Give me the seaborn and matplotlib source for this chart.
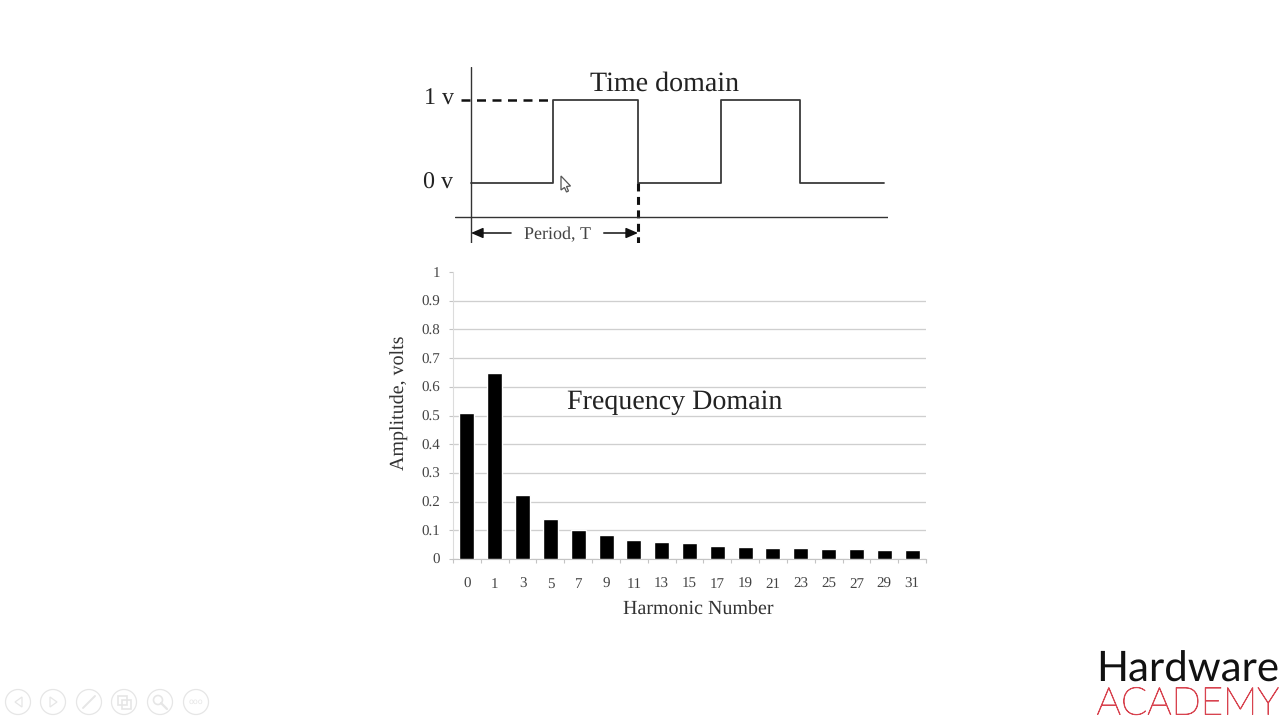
import matplotlib
matplotlib.use("Agg")
import matplotlib.pyplot as plt
import matplotlib.patheffects as pe
from matplotlib.patches import Circle, Polygon
import pandas as pd
import seaborn as sns

harmonics = ["0", "1", "3", "5", "7", "9", "11", "13", "15", "17", "19", "21", "23", "25", "27", "29", "31"]
amplitudes = [0.51, 0.647, 0.224, 0.138, 0.101, 0.083, 0.066, 0.06, 0.055, 0.045, 0.043, 0.04, 0.04, 0.035, 0.036, 0.031, 0.031]
wave_t = [0.0, 0.49, 0.49, 1.0, 1.0, 1.497, 1.497, 1.97, 1.97, 2.475]
wave_v = [0, 0, 1, 1, 0, 0, 1, 1, 0, 0]
dash_top_t = [-0.06, 0.49]
dash_top_v = [1, 1]
dash_period_t = [1.0, 1.0]
dash_period_v = [0.0, -0.72]
y_ticks = [0, 0.1, 0.2, 0.3, 0.4, 0.5, 0.6, 0.7, 0.8, 0.9, 1]
y_labels = ["0", "0.1", "0.2", "0.3", "0.4", "0.5", "0.6", "0.7", "0.8", "0.9", "1"]

W, H = 1280, 720
SERIF = "Liberation Serif"
INK = "#222222"
sns.set_theme(style="white")
plt.rcParams["font.family"] = [SERIF, "DejaVu Sans"]
plt.rcParams["text.hinting"] = "no_hinting"
plt.rcParams["text.hinting_factor"] = 1
fig = plt.figure(figsize=(12.8, 7.2), dpi=100, facecolor="white")

def px_axes(x0, y0, x1, y1):
    return fig.add_axes([x0 / W, 1 - y1 / H, (x1 - x0) / W, (y1 - y0) / H])

# ---------- frequency domain ----------
ax = px_axes(453, 272, 926, 559)
df = pd.DataFrame({"harmonic": harmonics, "amplitude": amplitudes})
sns.barplot(data=df, x="harmonic", y="amplitude", color="black", saturation=1, width=0.54, ax=ax, zorder=3)
ax.set_xlim(-0.5, 16.5)
ax.set_ylim(0, 1)
ax.set_yticks(y_ticks, y_labels)
ax.yaxis.grid(True, color="#cfcfcf", lw=0.95, zorder=0)
ax.xaxis.grid(False)
ax.get_ygridlines()[-1].set_visible(False)
ax.set_axisbelow(True)
for s in ("top", "right"):
    ax.spines[s].set_visible(False)
ax.spines["left"].set_color("#dcdcdc")
ax.spines["left"].set_linewidth(0.8)
ax.spines["bottom"].set_color("#c4c4c4")
ax.spines["bottom"].set_linewidth(0.8)
ax.tick_params(axis="y", left=True, length=3, width=0.8, color="#c4c4c4", labelsize=10.5, labelcolor="#444444", pad=6.5)
ax.tick_params(axis="x", which="major", bottom=False, length=0, labelsize=10.5, labelcolor="#444444", pad=13.5)
ax.set_xticks([i + 0.5 for i in range(-1, 17)], minor=True)
ax.tick_params(axis="x", which="minor", bottom=True, length=3, width=0.8, color="#c4c4c4")
ax.set_xlabel("Harmonic Number", fontsize=14.1, color="#333333")
ax.set_ylabel("Amplitude, volts", fontsize=14.1, color="#333333")
ax.xaxis.set_label_coords(0.519, -(601 - 559) / 287)
ax.yaxis.set_label_coords(-(453 - 409) / 473, (559 - 403) / 287)
ax.patch.set_alpha(0)

# ---------- time domain ----------
T_PX, V_PX = 167.0, 83.0
top = px_axes(455, 67, 888, 243)
top.set_xlim((455 - 471) / T_PX, (888 - 471) / T_PX)
top.set_ylim((183 - 243) / V_PX, (183 - 67) / V_PX)
top.axis("off")
wave = pd.DataFrame({"t": wave_t, "v": wave_v, "order": range(len(wave_t))})
sns.lineplot(data=wave, x="t", y="v", estimator=None, sort=False, color="#3a3a3a", lw=1.3, ax=top)
top.plot(dash_top_t, dash_top_v, color="#111111", lw=1.8, ls=(0, (3.6, 2.6)))
top.plot(dash_period_t, dash_period_v, color="#111111", lw=2.2, ls=(0, (2.6, 1.8)))
top.axvline(0, color="#333333", lw=1.0)
top.axhline((183 - 217) / V_PX, color="#333333", lw=1.0)
arrow_v = (183 - 233) / V_PX
for start, end in ((0.24, 0.0), (0.795, 1.0)):
    top.annotate("", xy=(end, arrow_v), xytext=(start, arrow_v),
                 arrowprops=dict(arrowstyle="-|>,head_width=0.26,head_length=0.6", color="#111111",
                                 lw=1.1, shrinkA=0, shrinkB=0))
top.patch.set_alpha(0)

# ---------- pixel overlay: titles, cursor, logo, slide controls ----------
ov = fig.add_axes([0, 0, 1, 1])
ov.set_xlim(0, W)
ov.set_ylim(H, 0)
ov.axis("off")
ov.patch.set_alpha(0)
ov.text(664.5, 84, "Time domain", fontsize=19.8, color=INK, ha="center", va="center")
ov.text(675, 402, "Frequency Domain", fontsize=19.8, color=INK, ha="center", va="center")
ov.text(439, 99, "1 v", fontsize=17, color=INK, ha="center", va="center")
ov.text(438, 183, "0 v", fontsize=17, color=INK, ha="center", va="center")
ov.text(558, 235, "Period, T", fontsize=12.8, color="#444444", ha="center", va="center")

cursor = [(561, 176), (561, 190), (564.5, 187.5), (566.5, 192), (568.5, 191), (566.5, 186.5), (570.5, 186)]
ov.add_patch(Polygon(cursor, closed=True, fc="white", ec="#555555", lw=0.9, zorder=5))

ov.text(1279.5, 682, "Hardware", family="Lato", fontsize=30.6, color="#111111", ha="right", va="baseline")
ov.text(1277.5, 714.5, "ACADEMY", family="Lato", fontweight="light", fontsize=27.6, color="#d8434f", ha="right", va="baseline",
        path_effects=[pe.withStroke(linewidth=0.6, foreground="#d8434f")])

ICON = "#e6e6e6"
centers = [18, 53, 89, 124, 160, 196]
for cx in centers:
    ov.add_patch(Circle((cx, 702), 12.5, fc="none", ec=ICON, lw=0.9))
ov.add_patch(Polygon([(22, 697), (15, 702), (22, 707)], closed=True, fc="none", ec=ICON, lw=0.9))
ov.add_patch(Polygon([(50, 697), (57, 702), (50, 707)], closed=True, fc="none", ec=ICON, lw=0.9))
ov.plot([83, 95], [708, 696], color=ICON, lw=1.4)
ov.add_patch(Polygon([(118, 696), (127, 696), (127, 705), (118, 705)], closed=True, fc="none", ec=ICON, lw=1.2))
ov.add_patch(Polygon([(122, 700), (131, 700), (131, 709), (122, 709)], closed=True, fc="none", ec=ICON, lw=1.2))
ov.add_patch(Circle((158, 700), 4.5, fc="none", ec=ICON, lw=1.2))
ov.plot([161, 167], [703, 709], color=ICON, lw=1.6)
ov.text(196, 702, "ooo", fontsize=6, color=ICON, ha="center", va="center", family="DejaVu Sans")

fig.savefig("out.png", dpi=100, facecolor="white")
